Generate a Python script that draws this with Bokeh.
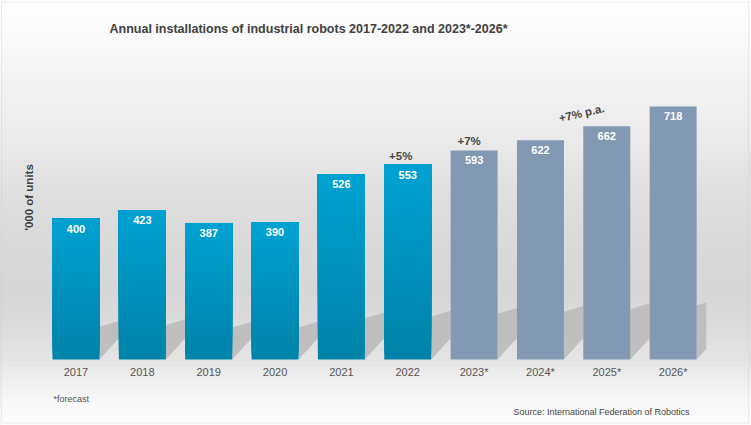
import numpy as np
from bokeh.plotting import figure
from bokeh.models import Range1d, FixedTicker, Label, BoxAnnotation
from bokeh.core.properties import value
from bokeh.embed import file_html
from bokeh.resources import INLINE

# ---- data ----
years = ["2017", "2018", "2019", "2020", "2021", "2022", "2023*", "2024*", "2025*", "2026*"]
installs = [400, 423, 387, 390, 526, 553, 593, 622, 662, 718]
is_forecast = [False] * 6 + [True] * 4
growth_texts = ["+5%", "+7%", "+7% p.a."]
growth_anchor_idx = [5, 6, 7.5]
title_text = "Annual installations of industrial robots 2017-2022 and 2023*-2026*"
y_label_text = "'000 of units"
footnote_text = "*forecast"
source_text = "Source: International Federation of Robotics"

# ---- layout helpers (pixel -> data) ----
W, H = 751, 425
PX_PER_CAT = 66.35
PX_PER_UNIT = 0.3525
X0_PX = 75.5     # centre of first bar in pixels
BASE_PX = 359    # baseline in pixels


def dy(px):
    return px / PX_PER_UNIT


def fx(px):
    return (px - X0_PX) / PX_PER_CAT


def fy(px):
    return (BASE_PX - px) / PX_PER_UNIT


FONT = "Liberation Sans"

p = figure(width=W, height=H, output_backend="svg", toolbar_location=None,
           x_range=Range1d(fx(0), fx(W)), y_range=Range1d(fy(H), fy(0)),
           y_axis_location=None, min_border=0)
p.outline_line_color = None
p.grid.visible = False
p.border_fill_color = "#ffffff"
p.background_fill_color = "#ffffff"

# ---- background vertical gradient (cumulative layers -> no seams) ----
stop_px = np.array([0, 42, 92, 142, 192, 242, 292, 332, 359, 380, 400, 425])
stop_lv = np.array([255, 250, 242, 234, 224, 218, 215, 221, 229, 240, 248, 253])
n_strip = 80
edges = np.linspace(0, H, n_strip + 1)
mids = (edges[:-1] + edges[1:]) / 2
levels = np.interp(mids, stop_px, stop_lv).astype(int)
p.quad(left=fx(0), right=fx(W), top=[fy(e) for e in edges[:-1]],
       bottom=fy(H),
       fill_color=["#%02x%02x%02x" % (l, l, l) for l in levels], line_color=None)

# ---- shadows behind bars ----
idx = np.arange(len(years))
bar_w = 0.708
gap = 1 - bar_w
xs, ys = [], []
for i, v in enumerate(installs):
    r = i + bar_w / 2
    d = gap if i < len(installs) - 1 else gap / 2
    sh = dy(0.19 * v * PX_PER_UNIT + 6)
    dpx = d * PX_PER_CAT
    xs.append([r, r + d, r + d, r])
    ys.append([0, dy(dpx * 1.1), sh + dy(dpx * 0.3), sh])
p.patches(xs, ys, fill_color="#b8b8b8", fill_alpha=0.85, line_color=None)

# ---- bars (gradient for actual years, cumulative layers) ----
N = 30
ql, qr, qb, qt, qc = [], [], [], [], []
top_rgb = np.array([0, 162, 210])
bot_rgb = np.array([0, 130, 168])
for i, v in enumerate(installs):
    if is_forecast[i]:
        continue
    for k in range(N):
        frac = (k + 0.5) / N
        c = bot_rgb + (top_rgb - bot_rgb) * frac
        ql.append(i - bar_w / 2)
        qr.append(i + bar_w / 2)
        qb.append(v * k / N)
        qt.append(v)
        qc.append("#%02x%02x%02x" % tuple(int(round(t)) for t in c))
p.quad(left=ql, right=qr, bottom=qb, top=qt, fill_color=qc, line_color=None)

f_idx = [i for i in idx if is_forecast[i]]
p.vbar(x=f_idx, top=[installs[i] for i in f_idx], width=bar_w, bottom=0,
       fill_color="#8298b3", line_color=None)

# ---- value labels ----
p.text(x=idx, y=installs, text=[str(v) for v in installs], text_color="white",
       text_font=value(FONT), text_font_style="bold", text_font_size="11px",
       text_align="center", text_baseline="middle", y_offset=10)

# ---- growth annotations ----
g_y = [installs[5], installs[6], (installs[7] + installs[8]) / 2]
p.text(x=growth_anchor_idx[:2], y=g_y[:2], text=growth_texts[:2], text_color="#474747",
       text_font=value(FONT), text_font_style="bold", text_font_size="11.5px",
       text_align="center", text_baseline="middle", x_offset=[-7, -5], y_offset=-9)
p.text(x=[growth_anchor_idx[2]], y=[g_y[2]], text=[growth_texts[2]], text_color="#474747",
       text_font=value(FONT), text_font_style="bold", text_font_size="11.5px",
       text_align="center", text_baseline="middle", angle=0.23, x_offset=8, y_offset=-20)

# ---- x axis (drawn at the baseline) ----
ax = p.xaxis[0]
ax.fixed_location = 0
ax.ticker = FixedTicker(ticks=list(idx))
ax.major_label_overrides = {int(i): y for i, y in zip(idx, years)}
ax.axis_line_color = None
ax.major_tick_line_color = None
ax.minor_tick_line_color = None
ax.major_tick_out = 0
ax.major_label_standoff = 6
ax.major_label_text_font = FONT
ax.major_label_text_font_size = "11px"
ax.major_label_text_color = "#555555"

# ---- texts ----
p.add_layout(Label(x=fx(109), y=fy(28), text=title_text, text_font=FONT,
                   text_font_style="bold", text_font_size="12.5px", text_color="#404040",
                   text_align="left", text_baseline="middle"))
p.add_layout(Label(x=fx(28), y=fy(197), text=y_label_text, text_font=FONT,
                   text_font_style="bold", text_font_size="11.5px", text_color="#404040",
                   text_align="center", text_baseline="middle", angle=np.pi / 2))
p.add_layout(Label(x=fx(53), y=fy(398), text=footnote_text, text_font=FONT,
                   text_font_size="9px", text_color="#555555",
                   text_align="left", text_baseline="middle"))
p.add_layout(Label(x=fx(513), y=fy(411), text=source_text, text_font=FONT,
                   text_font_size="9px", text_color="#444444",
                   text_align="left", text_baseline="middle"))

# ---- outer frame line ----
p.add_layout(BoxAnnotation(left=fx(1), right=fx(748), top=fy(1.5), bottom=fy(422.5),
                           fill_color=None, line_color="#c4c4c4", line_width=1))

open("out.html", "w").write(file_html(p, INLINE))
